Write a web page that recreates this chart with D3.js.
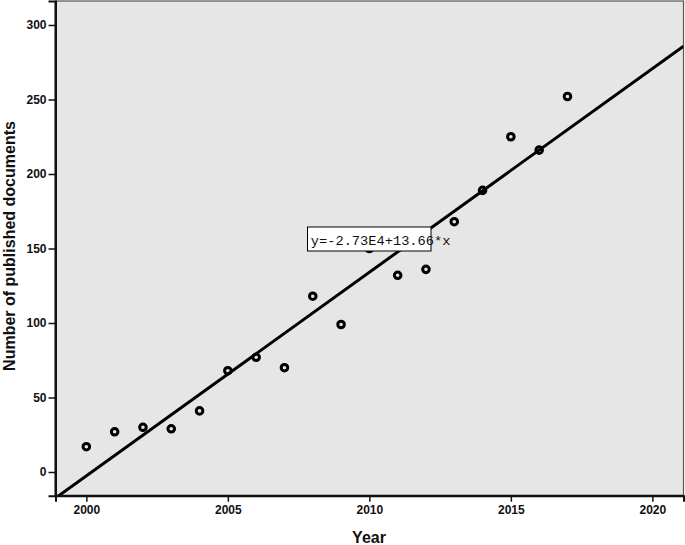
<!DOCTYPE html>
<html><head><meta charset="utf-8">
<script src="https://cdn.jsdelivr.net/npm/d3@7"></script>
<style>body{margin:0;background:#fff}svg{display:block}</style>
</head><body>
<svg id="c" width="685" height="545"></svg>
<script>
const years = [2000,2001,2002,2003,2004,2005,2006,2007,2008,2009,2010,2011,2012,2013,2014,2015,2016,2017];
const documents = [17,27,30,29,41,68,77,70,118,99,150,132,136,168,189,225,216,252];
const xTicks = [2000,2005,2010,2015,2020];
const yTicks = [0,50,100,150,200,250,300];
const xDomain = [1998.91, 2021.1];
const yDomain = [-15.9, 316.1];
const xLabel = "Year";
const yLabel = "Number of published documents";

const svg = d3.select("#c");
const L = 55.5, T = 1, R = 683.5, B = 495.7;
const x = d3.scaleLinear().domain(xDomain).range([L, R]);
const y = d3.scaleLinear().domain(yDomain).range([B, T]);

// background
svg.append("rect").attr("x", L).attr("y", T).attr("width", R - L).attr("height", B - T)
  .attr("fill", "#e6e6e6").attr("stroke", "#555").attr("stroke-width", 1.2);

// least squares fit
const n = years.length;
const mx = d3.mean(years), my = d3.mean(documents);
let sxy = 0, sxx = 0;
for (let i = 0; i < n; i++) { sxy += (years[i]-mx)*(documents[i]-my); sxx += (years[i]-mx)**2; }
const slope = sxy / sxx, intercept = my - slope * mx;

// axes
const gx = svg.append("g").attr("transform", `translate(0,${B})`)
  .call(d3.axisBottom(x).tickValues(xTicks).tickFormat(d3.format("d")).tickSize(6).tickPadding(4));
const gy = svg.append("g").attr("transform", `translate(${L},0)`)
  .call(d3.axisLeft(y).tickValues(yTicks).tickSize(7).tickPadding(2));
[gx, gy].forEach(g => {
  g.select(".domain").attr("stroke", "#111").attr("stroke-width", 2);
  g.selectAll(".tick line").attr("stroke", "#111").attr("stroke-width", 1.5);
  g.selectAll(".tick text").attr("font-family", "Liberation Sans, Arial, sans-serif")
    .attr("font-weight", "bold").attr("font-size", 12).attr("fill", "#111");
});

// points
svg.append("g").selectAll("circle").data(years).join("circle")
  .attr("cx", (d) => x(d)).attr("cy", (d, i) => y(documents[i])).attr("r", 3.3)
  .attr("fill", "none").attr("stroke", "#000").attr("stroke-width", 3);

// regression line (clipped to plot area)
svg.append("clipPath").attr("id", "clip").append("rect")
  .attr("x", L).attr("y", T).attr("width", R - L).attr("height", B - T);
svg.append("line").attr("clip-path", "url(#clip)")
  .attr("x1", x(xDomain[0])).attr("y1", y(intercept + slope * xDomain[0]))
  .attr("x2", x(xDomain[1])).attr("y2", y(intercept + slope * xDomain[1]))
  .attr("stroke", "#000").attr("stroke-width", 3);

// equation label (box over the line, text overflowing box)
const eq = "y=" + (intercept/1e4).toFixed(2) + "E4+" + slope.toFixed(2) + "*x";
svg.append("rect").attr("x", 307.5).attr("y", 227).attr("width", 123.5).attr("height", 24)
  .attr("fill", "#fff").attr("stroke", "#000").attr("stroke-width", 1);
svg.append("text").attr("x", 310.8).attr("y", 244.5).text(eq)
  .attr("font-family", "Liberation Mono, DejaVu Sans Mono, monospace").attr("font-size", 13.7).attr("fill", "#111");

// frame on top for left/bottom edge
svg.append("line").attr("x1", L).attr("x2", L).attr("y1", T).attr("y2", B).attr("stroke", "#111").attr("stroke-width", 2);
svg.append("line").attr("x1", L).attr("x2", R).attr("y1", B).attr("y2", B).attr("stroke", "#111").attr("stroke-width", 2);

// axis titles
svg.append("text").attr("x", 369).attr("y", 543).attr("text-anchor", "middle")
  .attr("font-family", "Liberation Sans, Arial, sans-serif").attr("font-weight", "bold").attr("font-size", 16)
  .attr("fill", "#111").text(xLabel);
svg.append("text").attr("transform", "translate(15,246) rotate(-90)").attr("text-anchor", "middle")
  .attr("font-family", "Liberation Sans, Arial, sans-serif").attr("font-weight", "bold").attr("font-size", 16)
  .attr("fill", "#111").text(yLabel);
</script>
</body></html>
